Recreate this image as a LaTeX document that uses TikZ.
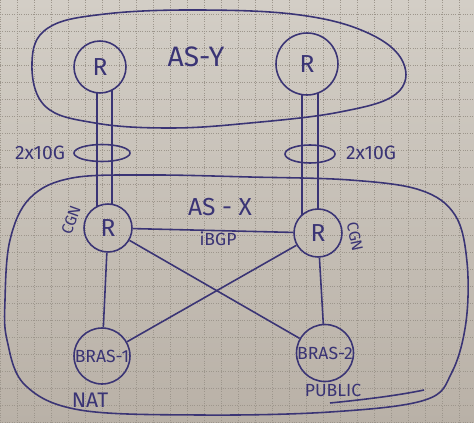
\documentclass[tikz,border=0pt]{standalone}
\usepackage{fontspec}
\setmainfont{Fira Sans}
\usetikzlibrary{calc}
\definecolor{ink}{HTML}{3A3475}
\definecolor{papertop}{HTML}{D3CEC6}
\definecolor{paperbot}{HTML}{B9B1A7}
\definecolor{gridc}{HTML}{9D968C}
\tikzset{
  pen/.style={draw=ink, line width=0.9pt},
  router/.style={circle, pen, text=ink, inner sep=0pt, font=\fontsize{14}{14}\selectfont},
  bras/.style={circle, pen, text=ink, inner sep=0pt, font=\fontsize{10}{10}\selectfont},
  lbl/.style={text=ink, inner sep=0pt},
  gridline/.style={draw=gridc, line width=0.35pt, densely dotted}
}
\begin{document}
\begin{tikzpicture}[x=0.02cm, y=-0.02cm]
\useasboundingbox (0,0) rectangle (474,423);
\shade[top color=papertop, bottom color=paperbot] (0,0) rectangle (474,423);
\foreach \gx in {0,17,...,474} \draw[gridline] (\gx,0) -- (\gx,423);
\foreach \gy in {14,31,...,423} \draw[gridline] (0,\gy) -- (474,\gy);

% AS-Y blob
\draw[pen] plot[smooth cycle, tension=0.65] coordinates {
  (32,62) (48,28) (105,14) (200,10) (300,15) (368,33) (403,62)
  (396,94) (340,112) (250,123) (170,128) (95,123) (45,106)};
% AS-X blob
\draw[pen] plot[smooth cycle, tension=0.6] coordinates {
  (5,300) (10,240) (30,198) (72,178) (150,175) (250,177) (350,180)
  (420,190) (455,215) (467,262) (466,322) (452,372) (425,400)
  (330,412) (200,415) (80,410) (25,385) (7,340)};
\draw[pen] (330,403) .. controls (370,399) and (400,395) .. (424,390);

% routers
\node[router, minimum size=1.04cm] (TL) at (100,67) {R};
\node[router, minimum size=1.24cm] (TR) at (307,64) {R};
\node[router, minimum size=0.96cm] (CL) at (108,228) {R};
\node[router, minimum size=0.96cm] (CR) at (318,233) {R};
\node[bras, minimum size=1.12cm] (B1) at (102,356) {BRAS-1};
\node[bras, minimum size=1.08cm] (B2) at (325,353) {BRAS-2};

% uplinks (2x10G)
\draw[pen] ($(TL.center)+(-3,26)$) -- ($(CL.center)+(-11,-21)$);
\draw[pen] ($(TL.center)+(12,23)$) -- ($(CL.center)+(4,-24)$);
\draw[pen] ($(TR.center)+(-5,30.6)$) -- ($(CR.center)+(-16,-18)$);
\draw[pen] ($(TR.center)+(11,29)$) -- ($(CR.center)+(0,-24)$);
\draw[pen] (102,153) ellipse [x radius=28, y radius=8.5];
\draw[pen] (310,154) ellipse [x radius=25, y radius=9];

% AS-X links
\draw[pen] (CL) -- (CR);
\draw[pen] (CL) -- (B1);
\draw[pen] (CL) -- (B2);
\draw[pen] (CR) -- (B1);
\draw[pen] (CR) -- (B2);

% labels
\node[lbl, font=\fontsize{16}{16}\selectfont] (asy) at (196,57) {AS-Y};
\node[lbl, font=\fontsize{14}{14}\selectfont] (asx) at (220,207) {AS - X};
\node[lbl, font=\fontsize{10}{10}\selectfont] (ibgp) at (218,239) {iBGP};
\node[lbl, font=\fontsize{11}{11}\selectfont] (l1) at (40,153) {2x10G};
\node[lbl, font=\fontsize{11}{11}\selectfont] (l2) at (371,153) {2x10G};
\node[lbl, font=\fontsize{9}{9}\selectfont, rotate=70] (cgn1) at (71,220) {CGN};
\node[lbl, font=\fontsize{9}{9}\selectfont, rotate=-78] (cgn2) at (355,237) {CGN};
\node[lbl, font=\fontsize{12}{12}\selectfont] (nat) at (90,400) {NAT};
\node[lbl, font=\fontsize{10}{10}\selectfont] (pub) at (333,390) {PUBLIC};
\end{tikzpicture}
\end{document}
